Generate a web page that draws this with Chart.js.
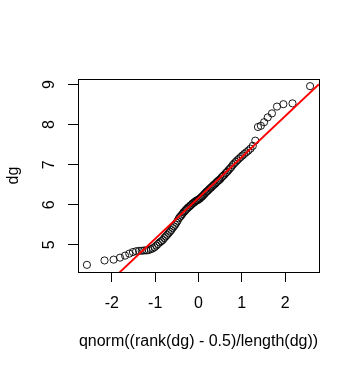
<!DOCTYPE html>
<html>
<head>
<meta charset="utf-8">
<script src="https://cdn.jsdelivr.net/npm/chart.js@4"></script>
<style>
  html, body { margin: 0; padding: 0; background: #ffffff; }
  #c { display: block; }
</style>
</head>
<body>
<canvas id="c" width="360" height="371"></canvas>
<script>
// Theoretical quantiles qnorm((rank(dg) - 0.5)/length(dg)), n = 100
const theoQuantiles = [
  -2.5758, -2.1701, -1.9600, -1.8119, -1.6954, -1.5982, -1.5141, -1.4395, -1.3722, -1.3106,
  -1.2536, -1.2004, -1.1503, -1.1031, -1.0581, -1.0152, -0.9741, -0.9346, -0.8965, -0.8596,
  -0.8239, -0.7892, -0.7554, -0.7225, -0.6903, -0.6588, -0.6280, -0.5978, -0.5681, -0.5388,
  -0.5101, -0.4817, -0.4538, -0.4261, -0.3989, -0.3719, -0.3451, -0.3186, -0.2924, -0.2663,
  -0.2404, -0.2147, -0.1891, -0.1637, -0.1383, -0.1130, -0.0878, -0.0627, -0.0376, -0.0125,
   0.0125,  0.0376,  0.0627,  0.0878,  0.1130,  0.1383,  0.1637,  0.1891,  0.2147,  0.2404,
   0.2663,  0.2924,  0.3186,  0.3451,  0.3719,  0.3989,  0.4261,  0.4538,  0.4817,  0.5101,
   0.5388,  0.5681,  0.5978,  0.6280,  0.6588,  0.6903,  0.7225,  0.7554,  0.7892,  0.8239,
   0.8596,  0.8965,  0.9346,  0.9741,  1.0152,  1.0581,  1.1031,  1.1503,  1.2004,  1.2536,
   1.3106,  1.3722,  1.4395,  1.5141,  1.5982,  1.6954,  1.8119,  1.9600,  2.1701,  2.5758
];
// Sorted dg values
const dg = [
  4.50, 4.61, 4.63, 4.68, 4.73, 4.78, 4.82, 4.84, 4.85, 4.85,
  4.86, 4.86, 4.87, 4.89, 4.91, 4.94, 4.98, 5.02, 5.06, 5.09,
  5.12, 5.17, 5.21, 5.25, 5.29, 5.33, 5.37, 5.42, 5.46, 5.50,
  5.55, 5.60, 5.66, 5.70, 5.73, 5.77, 5.81, 5.84, 5.87, 5.90,
  5.93, 5.95, 5.98, 6.00, 6.03, 6.05, 6.07, 6.09, 6.11, 6.12,
  6.14, 6.16, 6.19, 6.21, 6.24, 6.27, 6.30, 6.33, 6.35, 6.38,
  6.41, 6.43, 6.46, 6.49, 6.51, 6.54, 6.57, 6.60, 6.62, 6.65,
  6.69, 6.72, 6.75, 6.79, 6.82, 6.86, 6.90, 6.94, 6.99, 7.03,
  7.07, 7.11, 7.15, 7.19, 7.23, 7.27, 7.31, 7.35, 7.40, 7.47,
  7.60, 7.94, 7.97, 8.06, 8.18, 8.28, 8.45, 8.51, 8.53, 8.96
];
// Reference line (intercept, slope)
const refLineIntercept = 6.17;
const refLineSlope = 1.02;
// Tick labels
const xTickValues = [-2, -1, 0, 1, 2];
const yTickValues = [5, 6, 7, 8, 9];
const xTitle = 'qnorm((rank(dg) - 0.5)/length(dg))';
const yTitle = 'dg';

// R-style axis limits: data range extended by 4% on each side
function rRange(arr) {
  const mn = Math.min(...arr), mx = Math.max(...arr);
  const d = (mx - mn) * 0.04;
  return [mn - d, mx + d];
}
const [xMin, xMax] = rRange(theoQuantiles);
const [yMin, yMax] = rRange(dg);

const points = theoQuantiles.map((q, i) => ({ x: q, y: dg[i] }));
const linePts = [
  { x: xMin, y: refLineIntercept + refLineSlope * xMin },
  { x: xMax, y: refLineIntercept + refLineSlope * xMax }
];

const FONT = 'Liberation Sans, Arial, Helvetica, sans-serif';
const FS = 16;

const boxPlugin = {
  id: 'rbox',
  afterDraw(chart) {
    const { ctx, chartArea: a } = chart;
    ctx.save();
    ctx.strokeStyle = '#000';
    ctx.lineWidth = 1;
    ctx.strokeRect(Math.round(a.left) + 0.5, Math.round(a.top) + 0.5,
                   Math.round(a.right - a.left), Math.round(a.bottom - a.top));
    // rotated y tick labels (R style, parallel to axis)
    const ys = chart.scales.y;
    ctx.fillStyle = '#000';
    ctx.font = FS + 'px ' + FONT;
    ctx.textAlign = 'center';
    ctx.textBaseline = 'middle';
    yTickValues.forEach(v => {
      const py = ys.getPixelForValue(v);
      ctx.save();
      ctx.translate(50, py);
      ctx.rotate(-Math.PI / 2);
      ctx.fillText(String(v), 0, 0);
      ctx.restore();
    });
    ctx.restore();
  }
};

new Chart(document.getElementById('c'), {
  data: {
    datasets: [
      {
        type: 'scatter',
        data: points,
        pointStyle: 'circle',
        pointRadius: 3.6,
        pointBorderWidth: 0.9,
        pointBorderColor: '#000',
        pointBackgroundColor: 'rgba(0,0,0,0)',
        showLine: false,
        order: 2
      },
      {
        type: 'line',
        data: linePts,
        borderColor: '#ff0000',
        borderWidth: 1.9,
        pointRadius: 0,
        fill: false,
        order: 1
      }
    ]
  },
  options: {
    responsive: false,
    animation: false,
    devicePixelRatio: 1,
    layout: { padding: { left: 0, right: 41, top: 79, bottom: 0 } },
    plugins: { legend: { display: false }, tooltip: { enabled: false } },
    scales: {
      x: {
        type: 'linear',
        min: xMin, max: xMax,
        afterBuildTicks: s => { s.ticks = xTickValues.map(v => ({ value: v })); },
        afterFit: s => { s.height = 99; },
        border: { display: false },
        grid: { drawOnChartArea: false, drawTicks: true, tickLength: 10, color: '#000', lineWidth: 1 },
        ticks: { color: '#000', font: { family: FONT, size: FS }, padding: 12, maxRotation: 0, minRotation: 0,
                 callback: v => String(v) },
        title: { display: true, text: xTitle, color: '#000', font: { family: FONT, size: FS },
                 padding: { top: 0, bottom: 20 } }
      },
      y: {
        type: 'linear',
        min: yMin, max: yMax,
        afterBuildTicks: s => { s.ticks = yTickValues.map(v => ({ value: v })); },
        afterFit: s => { s.width = 78; },
        border: { display: false },
        grid: { drawOnChartArea: false, drawTicks: true, tickLength: 10, color: '#000', lineWidth: 1 },
        ticks: { color: 'rgba(0,0,0,0)', font: { family: FONT, size: FS }, callback: v => String(v) },
        title: { display: true, text: yTitle, color: '#000', font: { family: FONT, size: FS },
                 padding: { top: 4, bottom: 0 } }
      }
    }
  },
  plugins: [boxPlugin]
});
</script>
</body>
</html>
